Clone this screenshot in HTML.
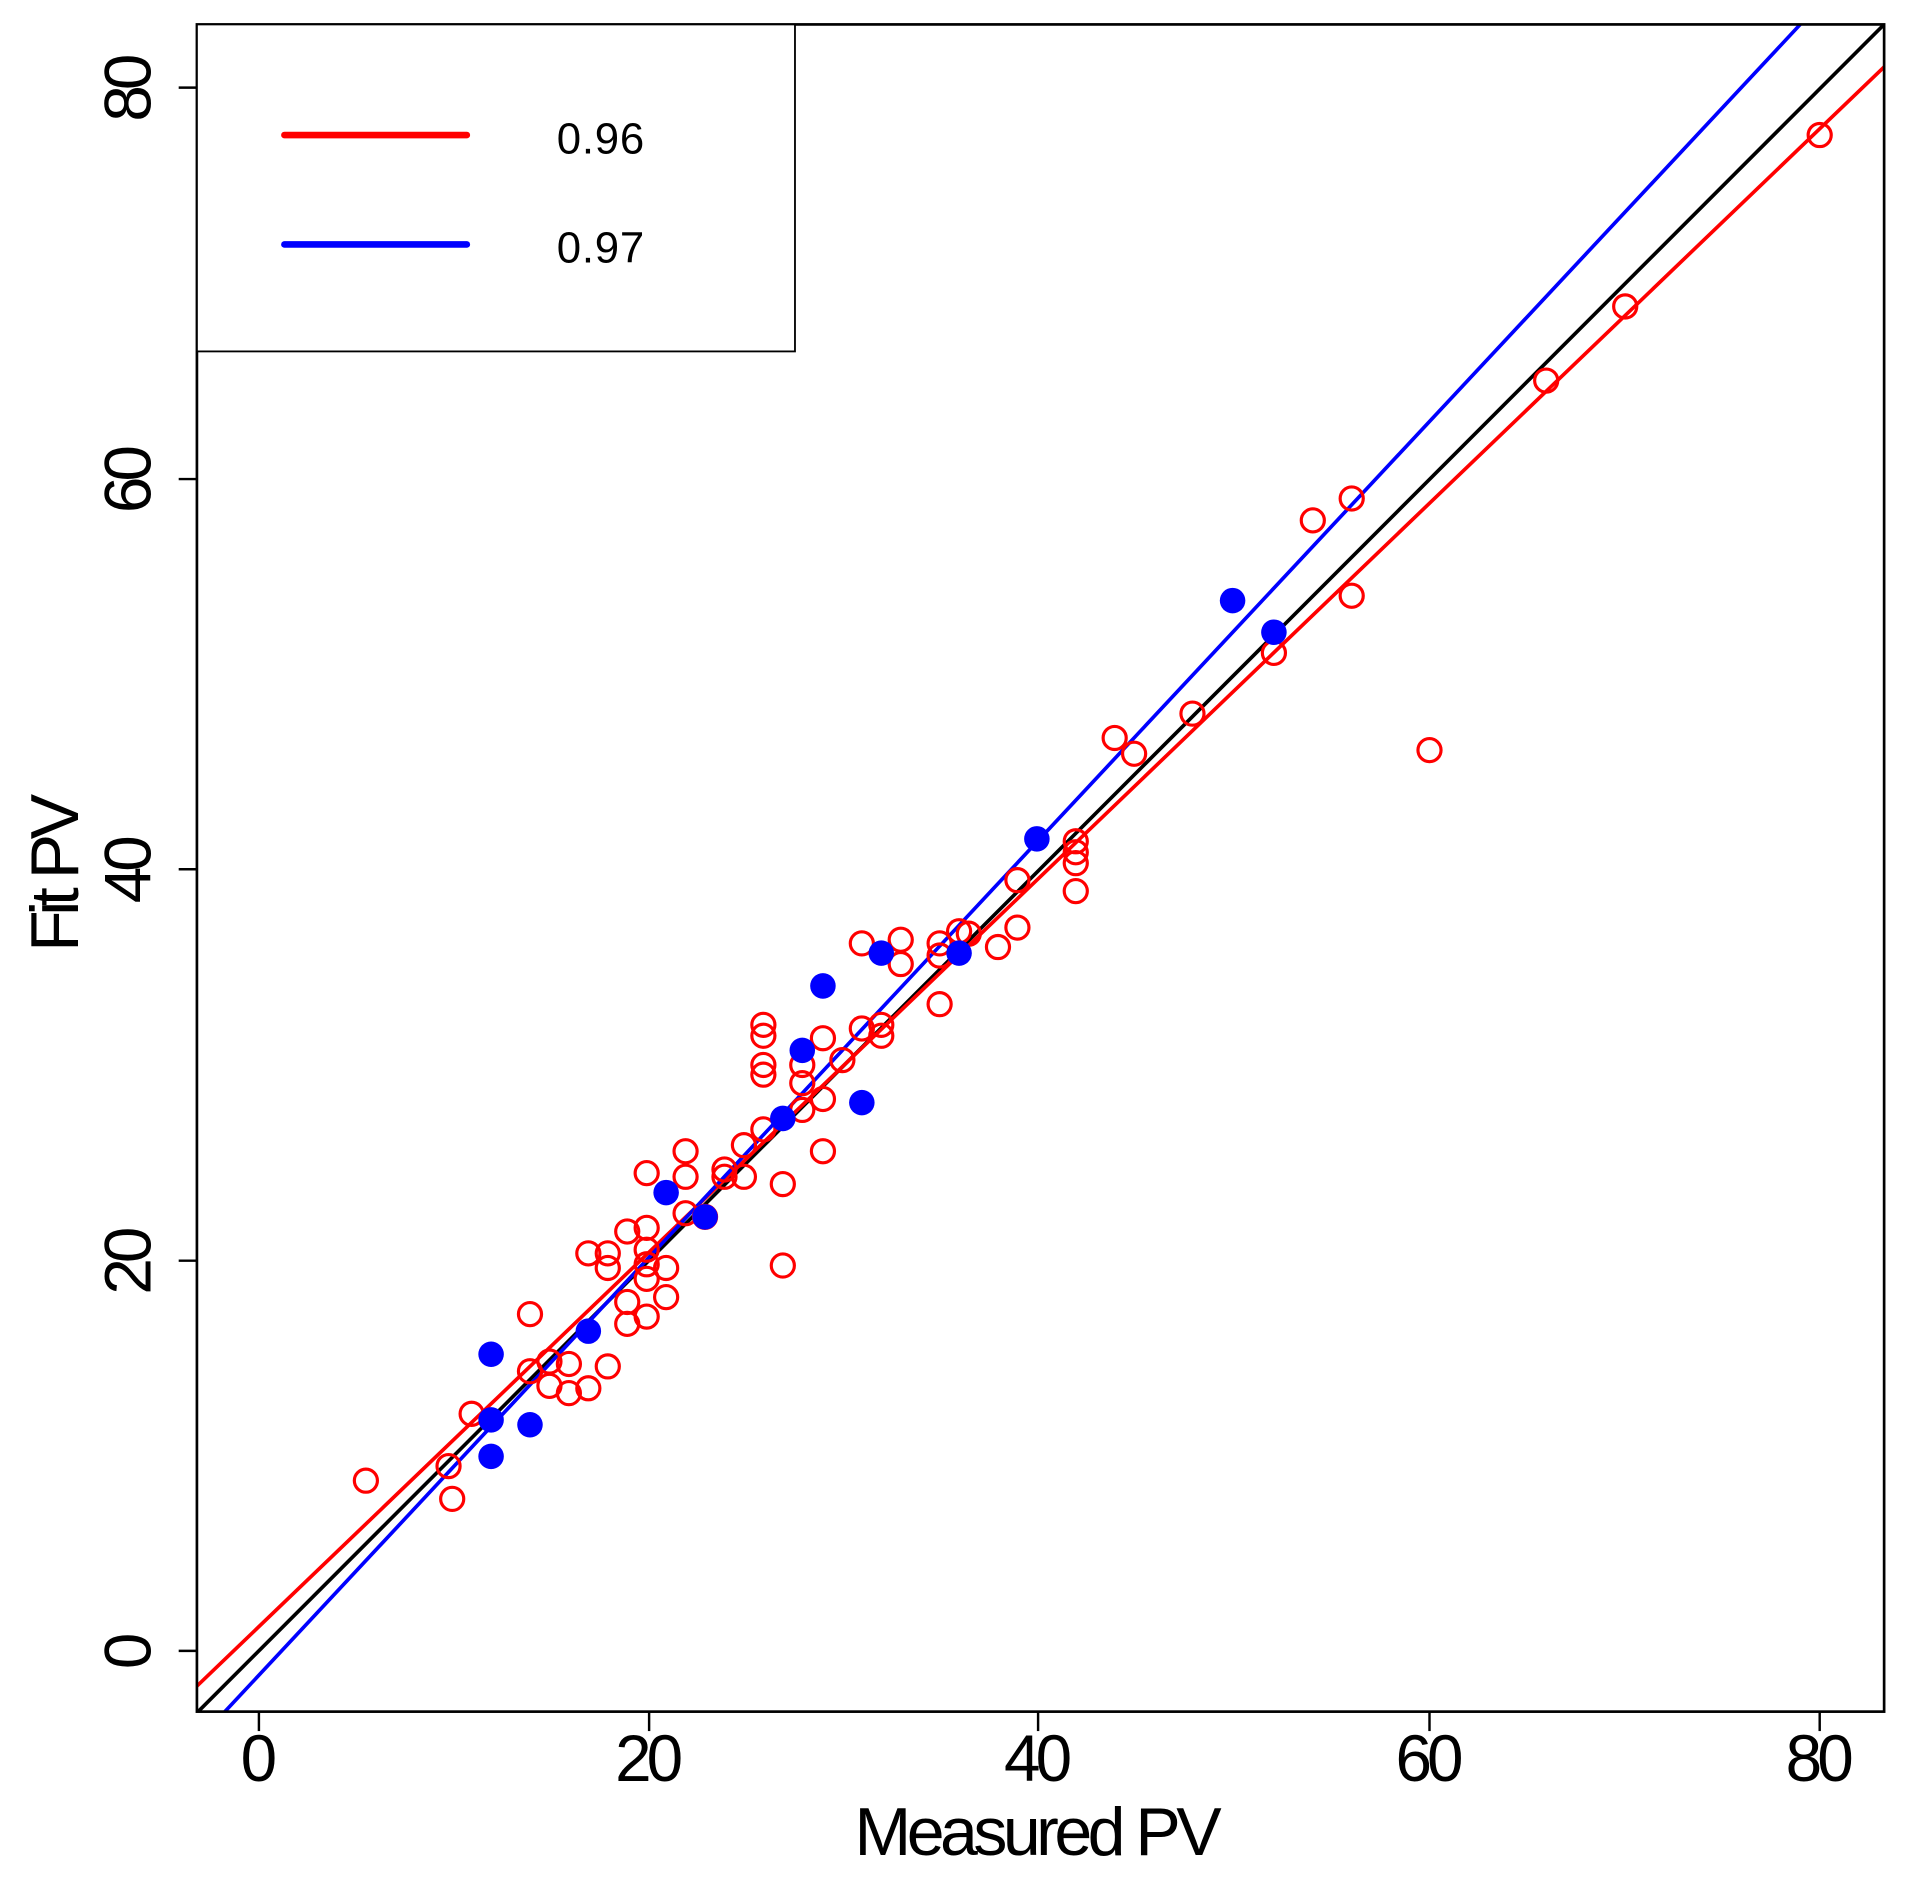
<!DOCTYPE html>
<html><head><meta charset="utf-8"><style>html,body{margin:0;padding:0;background:#fff}svg{display:block}</style></head>
<body>
<svg width="1906" height="1888" viewBox="0 0 1568 1553" xmlns="http://www.w3.org/2000/svg" font-family="Liberation Sans, sans-serif">
<defs><clipPath id="c"><rect x="162" y="20" width="1388" height="1388"/></clipPath></defs>
<rect width="1568" height="1553" fill="#fff"/>
<g clip-path="url(#c)" stroke-width="3" fill="none">
<line x1="162" y1="1409" x2="1550" y2="20" stroke="#000"/>
<line x1="162" y1="1387" x2="1550" y2="55" stroke="#f00"/>
<line x1="185" y1="1408" x2="1481" y2="20" stroke="#00f"/>
</g>
<g fill="none" stroke="#f00" stroke-width="2.6">
<circle cx="301" cy="1218" r="9.5"/><circle cx="369" cy="1206" r="9.5"/><circle cx="372" cy="1233" r="9.5"/><circle cx="388" cy="1163" r="9.5"/><circle cx="436" cy="1081" r="9.5"/><circle cx="436" cy="1128" r="9.5"/><circle cx="452" cy="1120" r="9.5"/><circle cx="452" cy="1140" r="9.5"/><circle cx="468" cy="1122" r="9.5"/><circle cx="468" cy="1146" r="9.5"/><circle cx="484" cy="1142" r="9.5"/><circle cx="484" cy="1031" r="9.5"/><circle cx="500" cy="1031" r="9.5"/><circle cx="500" cy="1043" r="9.5"/><circle cx="500" cy="1124" r="9.5"/><circle cx="516" cy="1013" r="9.5"/><circle cx="516" cy="1071" r="9.5"/><circle cx="516" cy="1089" r="9.5"/><circle cx="532" cy="965" r="9.5"/><circle cx="532" cy="1010" r="9.5"/><circle cx="532" cy="1028" r="9.5"/><circle cx="532" cy="1040" r="9.5"/><circle cx="532" cy="1052" r="9.5"/><circle cx="532" cy="1083" r="9.5"/><circle cx="548" cy="1043" r="9.5"/><circle cx="548" cy="1067" r="9.5"/><circle cx="564" cy="947" r="9.5"/><circle cx="564" cy="968" r="9.5"/><circle cx="564" cy="998" r="9.5"/><circle cx="580" cy="1001" r="9.5"/><circle cx="596" cy="962" r="9.5"/><circle cx="596" cy="968" r="9.5"/><circle cx="612" cy="942" r="9.5"/><circle cx="612" cy="968" r="9.5"/><circle cx="628" cy="843" r="9.5"/><circle cx="628" cy="852" r="9.5"/><circle cx="628" cy="876" r="9.5"/><circle cx="628" cy="884" r="9.5"/><circle cx="628" cy="929" r="9.5"/><circle cx="644" cy="974" r="9.5"/><circle cx="644" cy="1041" r="9.5"/><circle cx="660" cy="876" r="9.5"/><circle cx="660" cy="891" r="9.5"/><circle cx="660" cy="913" r="9.5"/><circle cx="677" cy="854" r="9.5"/><circle cx="677" cy="904" r="9.5"/><circle cx="677" cy="947" r="9.5"/><circle cx="693" cy="872" r="9.5"/><circle cx="709" cy="776" r="9.5"/><circle cx="709" cy="846" r="9.5"/><circle cx="725" cy="843" r="9.5"/><circle cx="725" cy="852" r="9.5"/><circle cx="741" cy="773" r="9.5"/><circle cx="741" cy="793" r="9.5"/><circle cx="773" cy="776" r="9.5"/><circle cx="773" cy="786" r="9.5"/><circle cx="773" cy="826" r="9.5"/><circle cx="789" cy="766" r="9.5"/><circle cx="797" cy="768" r="9.5"/><circle cx="821" cy="779" r="9.5"/><circle cx="837" cy="724" r="9.5"/><circle cx="837" cy="763" r="9.5"/><circle cx="885" cy="692" r="9.5"/><circle cx="885" cy="701" r="9.5"/><circle cx="885" cy="710" r="9.5"/><circle cx="885" cy="733" r="9.5"/><circle cx="917" cy="607" r="9.5"/><circle cx="933" cy="620" r="9.5"/><circle cx="981" cy="587" r="9.5"/><circle cx="1048" cy="537" r="9.5"/><circle cx="1080" cy="428" r="9.5"/><circle cx="1112" cy="410" r="9.5"/><circle cx="1112" cy="490" r="9.5"/><circle cx="1176" cy="617" r="9.5"/><circle cx="1272" cy="313" r="9.5"/><circle cx="1337" cy="252" r="9.5"/><circle cx="1497" cy="111" r="9.5"/>
</g>
<g fill="#00f">
<circle cx="404" cy="1114" r="10.5"/><circle cx="404" cy="1168" r="10.5"/><circle cx="404" cy="1198" r="10.5"/><circle cx="436" cy="1172" r="10.5"/><circle cx="484" cy="1095" r="10.5"/><circle cx="548" cy="981" r="10.5"/><circle cx="580" cy="1001" r="10.5"/><circle cx="644" cy="920" r="10.5"/><circle cx="660" cy="864" r="10.5"/><circle cx="677" cy="811" r="10.5"/><circle cx="709" cy="907" r="10.5"/><circle cx="725" cy="784" r="10.5"/><circle cx="789" cy="784" r="10.5"/><circle cx="853" cy="690" r="10.5"/><circle cx="1014" cy="494" r="10.5"/><circle cx="1048" cy="520" r="10.5"/>
</g>
<rect x="162" y="20" width="1388" height="1388" fill="none" stroke="#000" stroke-width="2.2"/>
<rect x="162" y="20" width="492" height="269" fill="#fff" stroke="#000" stroke-width="1.5"/>
<line x1="234" y1="111" x2="384" y2="111" stroke="#f00" stroke-width="5.5" stroke-linecap="round"/>
<line x1="234" y1="201" x2="384" y2="201" stroke="#00f" stroke-width="5.5" stroke-linecap="round"/>
<text x="458" y="126" font-size="36" textLength="72">0.96</text>
<text x="458" y="216" font-size="36" textLength="72">0.97</text>
<g stroke="#000" stroke-width="2">
<line x1="213" y1="1408" x2="213" y2="1424"/><line x1="534" y1="1408" x2="534" y2="1424"/><line x1="854" y1="1408" x2="854" y2="1424"/><line x1="1176" y1="1408" x2="1176" y2="1424"/><line x1="1497" y1="1408" x2="1497" y2="1424"/>
<line x1="162" y1="1358" x2="147" y2="1358"/><line x1="162" y1="1037" x2="147" y2="1037"/><line x1="162" y1="715" x2="147" y2="715"/><line x1="162" y1="394" x2="147" y2="394"/><line x1="162" y1="72" x2="147" y2="72"/>
</g>
<g font-size="54" text-anchor="middle">
<text x="213" y="1465">0</text><text x="534" y="1465" textLength="56">20</text><text x="854" y="1465" textLength="56">40</text><text x="1176" y="1465" textLength="56">60</text><text x="1497" y="1465" textLength="56">80</text>
<text transform="translate(124,1358) rotate(-90)">0</text>
<text transform="translate(124,1037) rotate(-90)" textLength="56">20</text>
<text transform="translate(124,715) rotate(-90)" textLength="56">40</text>
<text transform="translate(124,394) rotate(-90)" textLength="56">60</text>
<text transform="translate(124,72) rotate(-90)" textLength="56">80</text>
<text x="854" y="1526" font-size="56" textLength="302">Measured PV</text>
<text transform="translate(64,718) rotate(-90)" font-size="56" textLength="130">Fit PV</text>
</g>
</svg>
</body></html>
